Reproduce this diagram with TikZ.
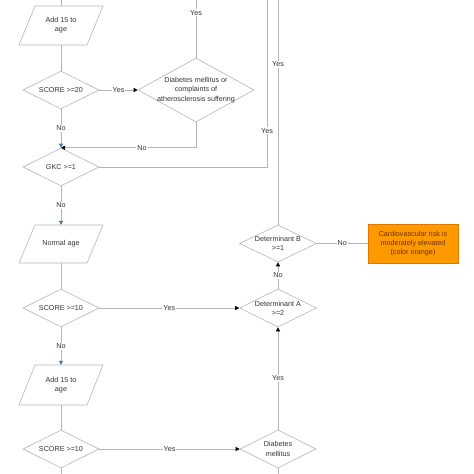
\documentclass[tikz,border=0pt]{standalone}
\usepackage{fontspec}
\setmainfont{Liberation Sans}
\usetikzlibrary{shapes.geometric,arrows.meta}
\definecolor{lnc}{HTML}{B4B4B4}
\definecolor{txc}{HTML}{333333}
\definecolor{bluearr}{HTML}{4A6FA5}
\definecolor{orfill}{HTML}{FF9900}
\definecolor{ordraw}{HTML}{E07800}
\definecolor{ortext}{HTML}{6B3000}
\tikzset{
  every node/.style={font=\fontsize{7.2}{9.2}\selectfont, text=txc},
  ln/.style={draw=lnc, line width=0.6pt},
  dia/.style={shape=diamond, draw=lnc, line width=0.6pt, inner sep=0pt, minimum width=#1},
  ghost/.style={shape=rectangle, inner sep=0pt, minimum width=68pt, minimum height=39pt},
  para/.style={draw=lnc, line width=0.6pt},
  lbl/.style={fill=white, inner sep=1pt},
  darr/.style={-{Triangle[length=4pt,width=4pt,color=black]}},
  barr/.style={-{Triangle[length=4pt,width=4pt,color=bluearr]}},
  txt/.style={align=center, inner sep=0pt},
  orbox/.style={draw=ordraw, fill=orfill, line width=0.6pt, minimum width=90pt, minimum height=39pt, align=center, inner sep=0pt, text=ortext}
}
\begin{document}
\begin{tikzpicture}[x=1pt,y=-1pt]
\useasboundingbox (0,0) rectangle (474,474);
% top free ends
\coordinate (t1) at (61,0);
\coordinate (t2) at (196,0);
\coordinate (t3) at (267,0);
\coordinate (t4) at (278,0);
\coordinate (b1) at (61,474);
\coordinate (b2) at (278,474);
% parallelograms
\draw[para] (35,6) -- (103,6) -- (87,45) -- (19,45) -- cycle;
\node[ghost] (add1) at (61,25.5) {};
\node[txt] at (61,25.5) {Add 15 to\\age};
\draw[para] (35,225) -- (103,225) -- (87,263) -- (19,263) -- cycle;
\node[ghost, minimum height=38pt] (norm) at (61,244) {};
\node[txt] at (61,244) {Normal age};
\draw[para] (35,365) -- (103,365) -- (87,405) -- (19,405) -- cycle;
\node[ghost, minimum height=40pt] (add2) at (61,385) {};
\node[txt] at (61,385) {Add 15 to\\age};
% diamonds
\node[dia=76pt, minimum height=38pt] (s20) at (61,90) {};
\node[txt] at (61,90) {SCORE >=20};
\node[dia=116pt, minimum height=64pt] (dam) at (196,90) {};
\node[txt] at (196,90) {Diabetes mellitus or\\complaints of\\atherosclerosis suffering};
\node[dia=76pt, minimum height=38pt] (gkc) at (61,167) {};
\node[txt] at (61,167) {GKC >=1};
\node[dia=76pt, minimum height=38pt] (s10a) at (61,308) {};
\node[txt] at (61,308) {SCORE >=10};
\node[dia=76pt, minimum height=38pt] (s10b) at (61,449) {};
\node[txt] at (61,449) {SCORE >=10};
\node[dia=77pt, minimum height=37pt] (detb) at (278,243.5) {};
\node[txt] at (278,243.5) {Determinant B\\>=1};
\node[dia=77pt, minimum height=38pt] (deta) at (278,308) {};
\node[txt] at (278,308) {Determinant A\\>=2};
\node[dia=76pt, minimum height=38pt] (dm) at (278,449) {};
\node[txt] at (278,449) {Diabetes\\mellitus};
\node[orbox] (orange) at (413,243.5) {Cardiovascular risk is\\moderately elevated\\(color orange)};
% connectors
\draw[ln] (t1) -- (add1.north);
\draw[ln] (add1.south) -- (s20.north);
\draw[ln, darr] (s20.east) -- node[lbl]{Yes} (dam.west);
\draw[ln] (t2) -- node[lbl, pos=0.22]{Yes} (dam.north);
\draw[ln, darr] (dam.south) |- node[lbl, pos=0.70]{No} (gkc.north);
\draw[ln, barr] (s20.south) -- node[lbl]{No} (gkc.north);
\draw[ln] (gkc.east) -| node[lbl, pos=0.608]{Yes} (t3);
\draw[ln] (t4) -- node[lbl, pos=0.285]{Yes} (detb.north);
\draw[ln, barr] (gkc.south) -- node[lbl]{No} (norm.north);
\draw[ln] (norm.south) -- (s10a.north);
\draw[ln, darr] (s10a.east) -- node[lbl]{Yes} (deta.west);
\draw[ln, barr] (s10a.south) -- node[lbl]{No} (add2.north);
\draw[ln] (add2.south) -- (s10b.north);
\draw[ln, darr] (s10b.east) -- node[lbl]{Yes} (dm.west);
\draw[ln] (s10b.south) -- (b1);
\draw[ln, darr] (dm.north) -- node[lbl]{Yes} (deta.south);
\draw[ln] (dm.south) -- (b2);
\draw[ln, darr] (deta.north) -- node[lbl]{No} (detb.south);
\draw[ln] (detb.east) -- node[lbl]{No} (orange.west);
\end{tikzpicture}
\end{document}
